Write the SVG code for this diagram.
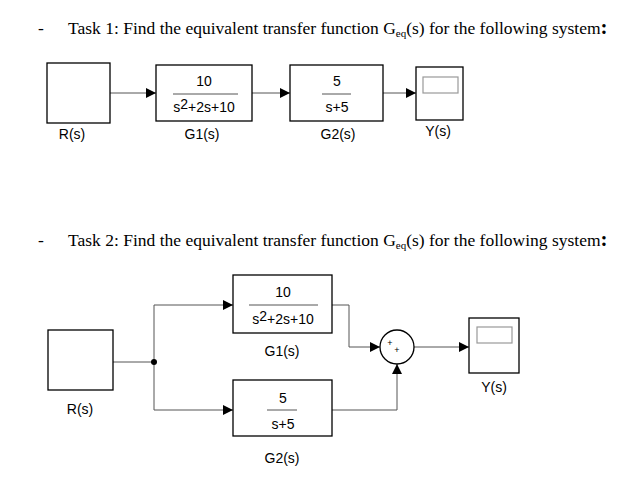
<svg xmlns="http://www.w3.org/2000/svg" width="638" height="479" viewBox="0 0 638 479">
<style>
.b{fill:#fff;stroke:#000;stroke-width:1.3}
.w{fill:none;stroke:#555;stroke-width:1}
.t{font-family:"Liberation Sans",Arial,sans-serif;font-size:14px;text-anchor:middle;fill:#000}
.h{font-family:"Liberation Serif","Times New Roman",serif;font-size:17.5px;fill:#000}
.s{fill:#fff;stroke:#999;stroke-width:1.2}
</style>
<defs><marker id="a" markerWidth="10" markerHeight="10" refX="10" refY="5" orient="auto" markerUnits="userSpaceOnUse"><path d="M0,0L10,5L0,10Z" fill="#000"/></marker></defs>
<text class="h" x="38" y="34">-</text>
<text class="h" x="68" y="34">Task 1: Find the equivalent transfer function G<tspan font-size="11" dy="3">eq</tspan><tspan dy="-3">(s) for the following system</tspan><tspan font-weight="bold" font-size="21">:</tspan></text>
<text class="h" x="38" y="246">-</text>
<text class="h" x="68" y="246">Task 2: Find the equivalent transfer function G<tspan font-size="11" dy="3">eq</tspan><tspan dy="-3">(s) for the following system</tspan><tspan font-weight="bold" font-size="21">:</tspan></text>
<g id="connectors">
<line class="w" x1="110" y1="93" x2="156" y2="93" marker-end="url(#a)"/>
<line class="w" x1="252" y1="93" x2="290" y2="93" marker-end="url(#a)"/>
<line class="w" x1="383" y1="93" x2="416" y2="93" marker-end="url(#a)"/>
<line class="w" x1="113" y1="362" x2="154" y2="362"/>
<polyline class="w" points="154,305 154,410"/>
<polyline class="w" points="154,305 233,305" marker-end="url(#a)"/>
<polyline class="w" points="154,410 233,410" marker-end="url(#a)"/>
<polyline class="w" points="332,305 349,305 349,347 380,347" marker-end="url(#a)"/>
<polyline class="w" points="332,410 397,410 397,364" marker-end="url(#a)"/>
<line class="w" x1="414" y1="347" x2="469" y2="347" marker-end="url(#a)"/>
<circle cx="154" cy="362" r="3" fill="#000"/>
</g>
<g id="r1"><rect class="b" x="47" y="63" width="63" height="60"/><text class="t" x="72" y="139">R(s)</text></g>
<g id="g1a"><rect class="b" x="156" y="65" width="96" height="56"/><text class="t" x="204" y="86">10</text><line x1="173" y1="94" x2="238" y2="94" stroke="#555"/><text class="t" x="204" y="112">s<tspan dy="-3">2</tspan><tspan dy="3">+2s+10</tspan></text><text class="t" x="202" y="139">G1(s)</text></g>
<g id="g2a"><rect class="b" x="290" y="65" width="93" height="56"/><text class="t" x="337" y="86">5</text><line x1="322" y1="94" x2="351" y2="94" stroke="#555"/><text class="t" x="337" y="112">s+5</text><text class="t" x="338" y="139">G2(s)</text></g>
<g id="y1"><rect class="b" x="416" y="67" width="47" height="53"/><rect class="s" x="423" y="77" width="35" height="16"/><text class="t" x="438" y="136">Y(s)</text></g>
<g id="r2"><rect class="b" x="48" y="330" width="65" height="60"/><text class="t" x="80" y="414">R(s)</text></g>
<g id="g1b"><rect class="b" x="233" y="275" width="99" height="58"/><text class="t" x="283" y="297">10</text><line x1="249" y1="305" x2="318" y2="305" stroke="#555"/><text class="t" x="283" y="324">s<tspan dy="-3">2</tspan><tspan dy="3">+2s+10</tspan></text><text class="t" x="282" y="356">G1(s)</text></g>
<g id="g2b"><rect class="b" x="233" y="380" width="99" height="56"/><text class="t" x="283" y="403">5</text><line x1="267" y1="410" x2="297" y2="410" stroke="#555"/><text class="t" x="283" y="429">s+5</text><text class="t" x="282" y="463">G2(s)</text></g>
<g id="sum"><circle cx="397" cy="347" r="17" class="b"/><text x="390" y="346" font-family="Liberation Sans,sans-serif" font-size="9" text-anchor="middle">+</text><text x="397" y="353" font-family="Liberation Sans,sans-serif" font-size="9" text-anchor="middle">+</text></g>
<g id="y2"><rect class="b" x="469" y="318" width="50" height="55"/><rect class="s" x="477" y="327" width="35" height="16"/><text class="t" x="494" y="392">Y(s)</text></g>
</svg>
